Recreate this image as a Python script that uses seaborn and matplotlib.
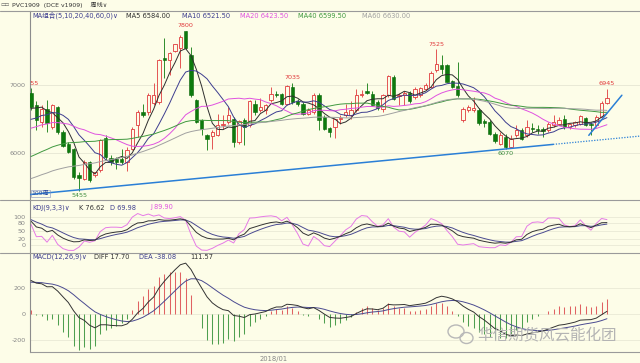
import numpy as np
import pandas as pd
import matplotlib
matplotlib.use("Agg")
import matplotlib.pyplot as plt
import seaborn as sns
from matplotlib.patches import Ellipse

# ---------------- data (weekly PVC candles, 109 weeks) ----------------
# closes of the 59 weeks before the first visible candle (used to warm up indicators)
prior_close = [4850, 4880, 4920, 4900, 4950, 4980, 4960, 5000, 5020, 4990,
               4970, 5000, 5040, 5010, 5050, 5030, 4990, 5020, 5060, 5030,
               5100, 5180, 5150, 5260, 5320, 5300, 5420, 5450, 5480, 5530,
               5510, 5600, 5680, 5650, 5720, 5800, 5830, 5920, 5900, 5980,
               6050, 6120, 6200, 6280, 6350, 6300, 6250, 6280, 6300, 6270,
               6300, 6280, 6350, 6380, 6390, 6450, 6600, 6720, 6850]

opens = [6890, 6705, 6460, 6655, 6390, 6680, 6310, 6140, 6070, 5690,
         5630, 5875, 5680, 5750, 6230, 5935, 5920, 5925, 5875, 6070,
         6410, 6610, 6610, 6745, 6755, 7400, 7365, 7500, 7540, 7790,
         7450, 6780, 6485, 6275, 6255, 6265, 6412, 6460, 6510, 6170,
         6485, 6410, 6730, 6632, 6632, 6780, 6877, 6868, 6730, 6976,
         6765, 6730, 6584, 6608, 6853, 6535, 6373, 6382, 6500, 6559,
         6559, 6632, 6853, 6912, 6877, 6755, 6657, 6853, 7113, 6843,
         6853, 6892, 6828, 6853, 6941, 6976, 7220, 7290, 7294, 7060,
         6990, 6485, 6632, 6640, 6632, 6470, 6461, 6290, 6142, 6240,
         6094, 6265, 6339, 6265, 6373, 6363, 6353, 6339, 6412, 6436,
         6500, 6387, 6422, 6436, 6520, 6436, 6412, 6535, 6745]
highs = [6955, 6765, 6705, 6780, 6730, 6700, 6340, 6165, 6080, 5725,
         5900, 5885, 5730, 6210, 6270, 5970, 5945, 6070, 6090, 6390,
         6630, 6730, 6880, 7025, 7390, 7685, 7490, 7610, 7735, 7800,
         7560, 6800, 6500, 6290, 6340, 6585, 6560, 6680, 6535, 6485,
         6520, 6780, 6780, 6805, 6730, 6975, 6910, 6890, 7010, 7035,
         6800, 6755, 6660, 6880, 6880, 6560, 6390, 6510, 6560, 6730,
         6765, 6940, 6927, 7025, 6912, 6780, 6877, 7147, 7147, 6892,
         6912, 6912, 6975, 6975, 7025, 7206, 7525, 7440, 7310, 7080,
         7340, 6680, 6710, 6830, 6660, 6510, 6485, 6310, 6314, 6290,
         6265, 6412, 6373, 6490, 6440, 6412, 6387, 6460, 6559, 6530,
         6559, 6451, 6480, 6569, 6535, 6461, 6559, 6765, 6945]
lows = [6630, 6340, 6390, 6315, 6360, 6290, 6090, 6010, 5630, 5455,
        5605, 5580, 5650, 5720, 5900, 5835, 5765, 5850, 5735, 6045,
        6240, 6535, 6560, 6705, 6730, 7100, 7150, 7490, 7245, 7530,
        6830, 6440, 6265, 6045, 6070, 6255, 6365, 6435, 6095, 6140,
        6120, 6390, 6560, 6610, 6585, 6755, 6830, 6705, 6705, 6730,
        6700, 6560, 6560, 6584, 6340, 6340, 6240, 6225, 6436, 6535,
        6510, 6608, 6830, 6877, 6706, 6632, 6608, 6828, 6780, 6706,
        6706, 6745, 6804, 6828, 6927, 6961, 7200, 7170, 7040, 6960,
        6820, 6460, 6600, 6600, 6412, 6390, 6265, 6157, 6118, 6070,
        6080, 6240, 6191, 6240, 6314, 6290, 6240, 6314, 6387, 6412,
        6363, 6363, 6390, 6412, 6402, 6265, 6387, 6510, 6720]
closes = [6680, 6485, 6655, 6450, 6715, 6315, 6110, 6020, 5650, 5640,
          5875, 5605, 5720, 6190, 5950, 5875, 5880, 5880, 6045, 6365,
          6610, 6560, 6855, 6855, 7370, 7365, 7465, 7600, 7710, 7540,
          6855, 6460, 6365, 6215, 6315, 6410, 6436, 6560, 6170, 6470,
          6390, 6765, 6610, 6680, 6706, 6877, 6853, 6730, 6990, 6755,
          6720, 6585, 6642, 6853, 6486, 6363, 6314, 6500, 6520, 6608,
          6632, 6863, 6873, 6887, 6716, 6667, 6863, 7132, 6804, 6863,
          6892, 6765, 6941, 6961, 7010, 7186, 7304, 7240, 7050, 6976,
          6855, 6657, 6681, 6670, 6441, 6441, 6290, 6177, 6275, 6090,
          6206, 6339, 6216, 6387, 6353, 6339, 6333, 6436, 6461, 6485,
          6387, 6436, 6461, 6549, 6422, 6412, 6535, 6745, 6814]

ma_periods = [5, 10, 20, 40, 60]
high_label_idx = [0, 29, 49, 76, 108]
low_label_idx = [9, 89]
xtick_idx = [45.4]
xtick_labels = ["2018/01"]
# hand-drawn trend lines (week index, price)
trend_x = [-0.2, 97.9]
trend_y = [5397, 6132]
trend_ext_x = [97.9, 114.2]
trend_ext_y = [6132, 6254]
steep_x = [104.6, 110.8]
steep_y = [6265, 6853]

# ---------------- indicators ----------------
n0 = len(prior_close)
c_all = pd.Series(prior_close + closes, dtype=float)
h_all = pd.Series(prior_close + highs, dtype=float)
l_all = pd.Series(prior_close + lows, dtype=float)
idx = np.arange(len(closes))

mas = {p: c_all.rolling(p, min_periods=1).mean().iloc[n0:].to_numpy() for p in ma_periods}

llv = l_all.rolling(9, min_periods=1).min()
hhv = h_all.rolling(9, min_periods=1).max()
rng = (hhv - llv).replace(0, np.nan)
rsv = ((c_all - llv) / rng * 100).fillna(50).to_numpy()
K = np.zeros(len(rsv)); D = np.zeros(len(rsv))
k, d = 50.0, 50.0
for t, r in enumerate(rsv):
    k = (2 * k + r) / 3
    d = (2 * d + k) / 3
    K[t], D[t] = k, d
J = 3 * K - 2 * D
K, D, J = K[n0:], D[n0:], J[n0:]

ema12 = c_all.ewm(span=12, adjust=False).mean()
ema26 = c_all.ewm(span=26, adjust=False).mean()
diff = ema12 - ema26
dea = diff.ewm(span=9, adjust=False).mean()
macd = 2 * (diff - dea)
diff, dea, macd = diff.iloc[n0:].to_numpy(), dea.iloc[n0:].to_numpy(), macd.iloc[n0:].to_numpy()

# ---------------- style ----------------
BG = "#fdfde8"
sns.set_style("white", rc={"axes.facecolor": BG, "figure.facecolor": BG})
plt.rcParams["font.family"] = ["DejaVu Sans", "Noto Sans CJK SC"]

RED = "#e0393b"
GREEN = "#0d7a0d"
C_MA = {5: "#2e2e2e", 10: "#3d3d8f", 20: "#e052e0", 40: "#3f983f", 60: "#a0a0a0"}
GRID = "#e9e9d6"
TXT = "#868686"

W, H = 640, 363
fig = plt.figure(figsize=(6.4, 3.63), dpi=100)


def ax_px(l, t, r, b):
    return fig.add_axes([l / W, 1 - b / H, (r - l) / W, (b - t) / H])


ax1 = ax_px(30, 11, 640, 199.5)
ax2 = ax_px(30, 199.5, 640, 252.5)
ax3 = ax_px(30, 252.5, 640, 352)
XL = (-0.19, 114.2)

for ax in (ax1, ax2, ax3):
    ax.set_xlim(*XL)
    ax.set_facecolor(BG)
    for s in ("top", "right", "bottom"):
        ax.spines[s].set_visible(False)
    ax.spines["left"].set_color("#8c8c8c")
    ax.spines["left"].set_linewidth(0.8)
    ax.tick_params(axis="y", length=2, width=0.5, color="#999999",
                   labelsize=4.6, labelcolor=TXT, pad=1)
    ax.tick_params(axis="x", length=0, labelsize=4.9, labelcolor=TXT, pad=3)
    ax.set_xticks([])

# ---- main panel ----
ax1.set_ylim(5324, 8088)
ax1.set_yticks([6000, 7000], ["6000", "7000"])
for v in (6000, 7000):
    ax1.axhline(v, color=GRID, lw=0.7, zorder=0)

o = np.array(opens, float); c = np.array(closes, float)
hi = np.array(highs, float); lo = np.array(lows, float)
up = c >= o
col = np.where(up, RED, GREEN)
ax1.vlines(idx, lo, hi, colors=col, lw=0.6, zorder=2)
body_bot = np.minimum(o, c)
body_h = np.maximum(np.abs(c - o), 8)
ax1.bar(idx[up], body_h[up], bottom=body_bot[up], width=0.62,
        facecolor=BG, edgecolor=RED, linewidth=0.6, zorder=3)
ax1.bar(idx[~up], body_h[~up], bottom=body_bot[~up], width=0.62,
        facecolor=GREEN, edgecolor="#0a660a", linewidth=0.4, zorder=3)

for p in ma_periods:
    sns.lineplot(x=idx, y=mas[p], ax=ax1, color=C_MA[p], linewidth=0.7,
                 zorder=4, legend=False)

ax1.plot(trend_x, trend_y, color="#2a7fd6", lw=1.1, zorder=5)
ax1.plot(trend_ext_x, trend_ext_y, color="#2a7fd6", lw=0.9, ls=(0, (1, 1.2)), zorder=5)
ax1.plot(steep_x, steep_y, color="#2a7fd6", lw=1.1, zorder=5)

for i in high_label_idx:
    ax1.annotate(f"{highs[i]}", (i, highs[i]), xytext=(0, 1.8), textcoords="offset points",
                 ha="center", va="bottom", fontsize=4.6, color=RED, zorder=6,
                 annotation_clip=False, clip_on=True)
for i in low_label_idx:
    ax1.annotate(f"{lows[i]}", (i, lows[i]), xytext=(0, -1.8), textcoords="offset points",
                 ha="center", va="top", fontsize=4.6, color="#3d8c3d", zorder=6)
ax1.set_ylabel(""); ax1.set_xlabel("")

# ---- KDJ panel ----
ax2.set_ylim(-26, 161.5)
ax2.set_yticks([0, 20, 50, 80, 100], ["0", "20", "50", "80", "100"])
for v in (0, 20, 50, 80, 100):
    ax2.axhline(v, color=GRID, lw=0.6, zorder=0)
sns.lineplot(x=idx, y=J, ax=ax2, color="#e67ae6", linewidth=0.7, legend=False)
sns.lineplot(x=idx, y=D, ax=ax2, color="#4a4a90", linewidth=0.7, legend=False)
sns.lineplot(x=idx, y=K, ax=ax2, color="#333333", linewidth=0.7, legend=False)
ax2.set_ylabel(""); ax2.set_xlabel("")

# ---- MACD panel ----
ax3.set_ylim(-295, 473)
ax3.set_yticks([-200, 0, 200], ["-200", "0", "200"])
for v in (-200, 0, 200):
    ax3.axhline(v, color=GRID, lw=0.6, zorder=0)
ax3.vlines(idx, 0, macd, colors=np.where(macd >= 0, "#e06262", "#4f9f4f"), lw=0.75, zorder=2)
sns.lineplot(x=idx, y=dea, ax=ax3, color="#4a4a90", linewidth=0.7, legend=False, zorder=3)
sns.lineplot(x=idx, y=diff, ax=ax3, color="#333333", linewidth=0.7, legend=False, zorder=3)
ax3.set_ylabel(""); ax3.set_xlabel("")
ax3.set_xticks(xtick_idx, xtick_labels)

# ---------------- overlay: separators, headers, watermark ----------------
axo = fig.add_axes([0, 0, 1, 1], zorder=10)
axo.set_xlim(0, W); axo.set_ylim(H, 0); axo.axis("off"); axo.patch.set_alpha(0)
for yy in (10.5, 199.5, 252.5):
    axo.plot([0, W], [yy, yy], color="#9a9a9a", lw=0.8)
axo.plot([30, W], [352, 352], color="#9a9a9a", lw=0.8)

FS = 4.8
axo.text(1, 5, "▭▭", fontsize=3.5, color="#555555", va="center")
axo.text(11.5, 5, "PVC1909  (DCE v1909)    周线∨", fontsize=4.4, color="#333333", va="center")

def hdr(x, y, s, color):
    axo.text(x, y, s, fontsize=FS, color=color, va="center", ha="left")

hdr(32, 16, "MA组合(5,10,20,40,60,0)∨", "#3d3d8f")
hdr(126.5, 16, "MA5 6584.00", "#2e2e2e")
hdr(181.5, 16, "MA10 6521.50", "#3d3d8f")
hdr(240, 16, "MA20 6423.50", "#e052e0")
hdr(297.5, 16, "MA40 6599.50", "#3f983f")
hdr(361.5, 16, "MA60 6630.00", "#a0a0a0")

hdr(32, 207.5, "KDJ(9,3,3)∨", "#3d3d8f")
hdr(79, 207.5, "K 76.62", "#333333")
hdr(110.5, 207.5, "D 69.98", "#3d3d8f")
hdr(150.5, 207.5, "J 89.90", "#e052e0")

hdr(32, 257, "MACD(12,26,9)∨", "#3d3d8f")
hdr(94, 257, "DIFF 17.70", "#333333")
hdr(139, 257, "DEA -38.08", "#3d3d8f")
hdr(190.5, 257, "111.57", "#333333")

axo.text(31.5, 193.5, "109周", fontsize=4.4, color="#2a4aa0", va="center", ha="left",
         bbox=dict(boxstyle="square,pad=0.1", fc="none", ec="#7f8fc0", lw=0.4))

# WeChat-like logo and watermark
axo.add_patch(Ellipse((456, 331.5), 16, 13, fill=False, ec="#b8b8b8", lw=1.0))
axo.add_patch(Ellipse((466.5, 338), 13, 11, fill=False, ec="#b8b8b8", lw=1.0))
axo.text(477, 335, "华信期货风云能化团", fontsize=11.2, color="#b4b4b4",
         family=["Noto Sans CJK SC", "DejaVu Sans"], va="center", ha="left")

fig.savefig("out.png", dpi=100, facecolor=BG)
